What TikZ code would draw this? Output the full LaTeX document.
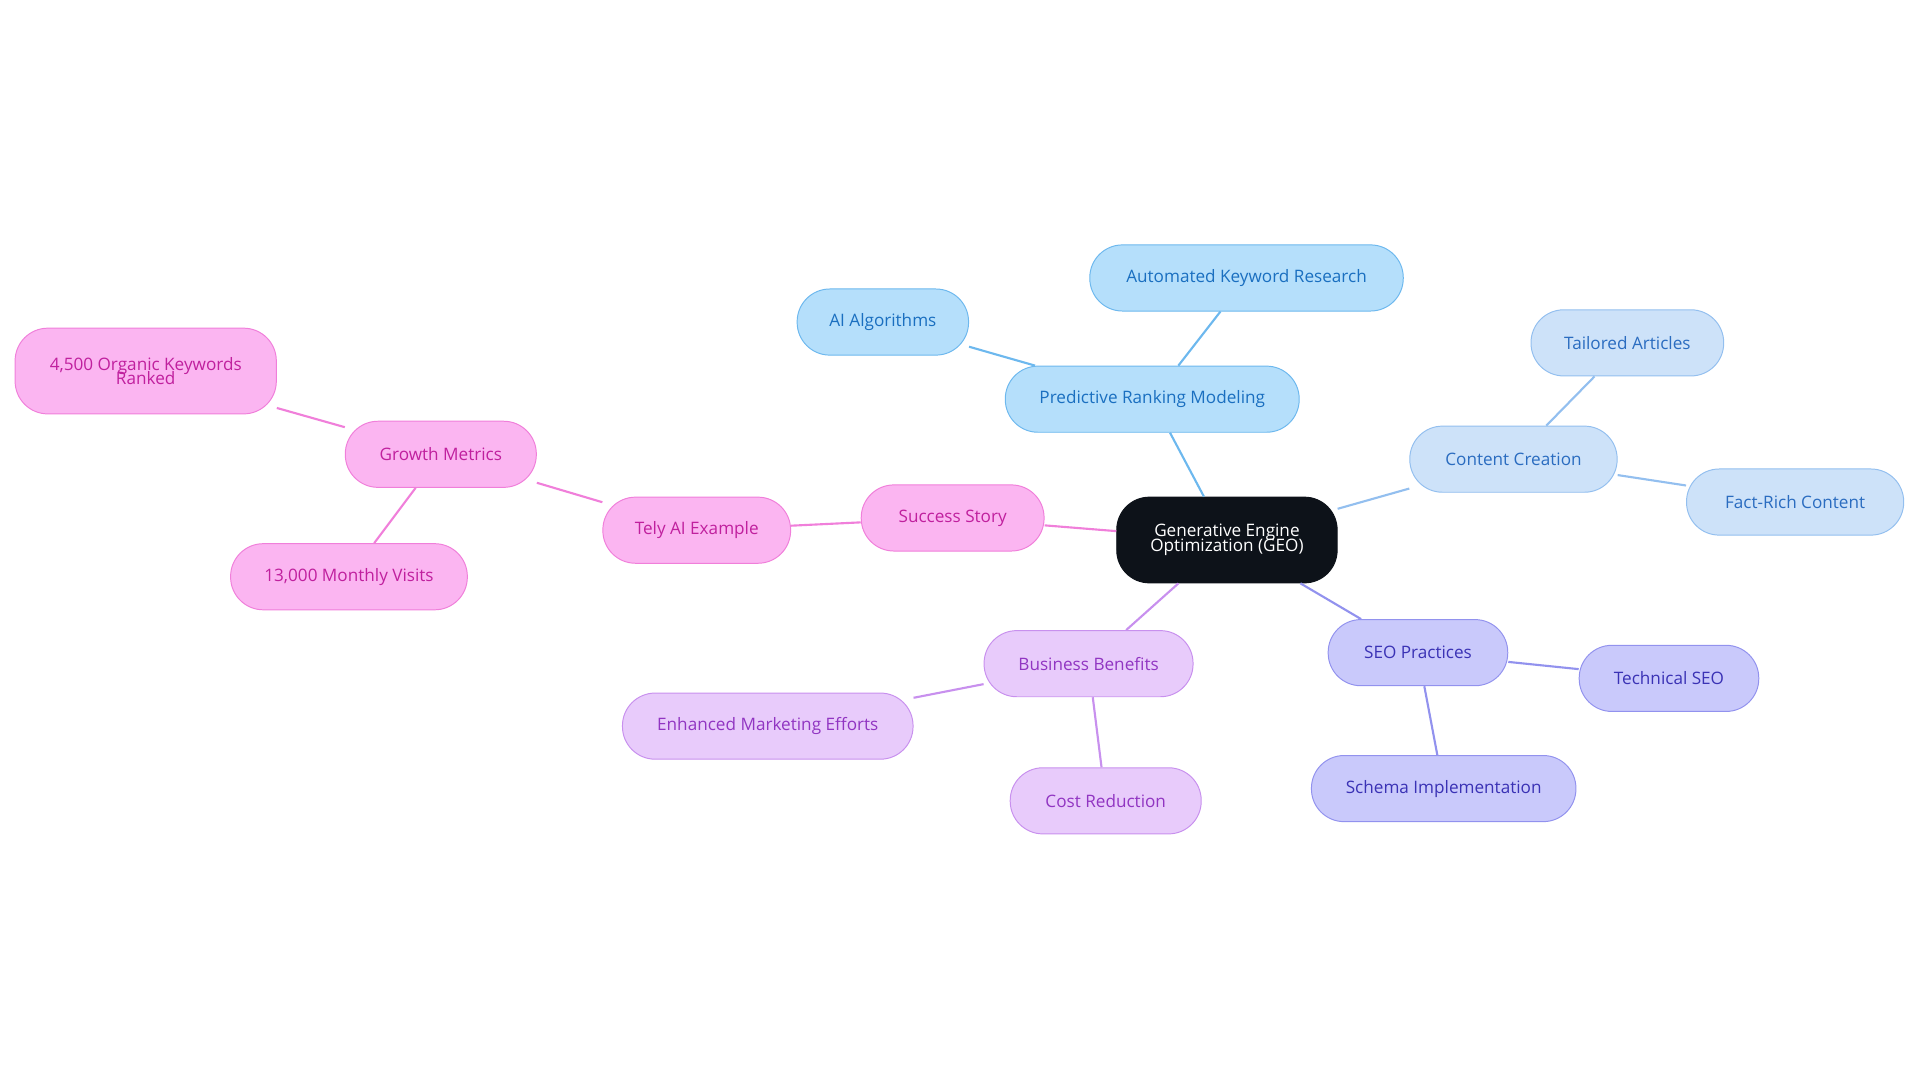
\documentclass[tikz,border=0pt]{standalone}
\usepackage{fontspec}
\setmainfont{Open Sans}
\definecolor{bF}{HTML}{B5DFFB}\definecolor{bD}{HTML}{6DB8EE}\definecolor{bT}{HTML}{1A6FC0}
\definecolor{lF}{HTML}{CDE2F9}\definecolor{lD}{HTML}{93BFEF}\definecolor{lT}{HTML}{2A6CC0}
\definecolor{iF}{HTML}{C9C9FB}\definecolor{iD}{HTML}{9292EE}\definecolor{iT}{HTML}{3A32B5}
\definecolor{pF}{HTML}{E8CBFB}\definecolor{pD}{HTML}{C890EE}\definecolor{pT}{HTML}{9135C2}
\definecolor{kF}{HTML}{FBB5F1}\definecolor{kD}{HTML}{F07FDA}\definecolor{kT}{HTML}{C0209E}
\definecolor{dark}{HTML}{0D1219}
\tikzset{
 nd/.style={rounded corners=20pt,minimum height=40.5pt,font=\fontsize{10.5}{11}\selectfont,align=center,inner sep=2pt,line width=0.6pt},
 bb/.style={nd,fill=bF,draw=bD,text=bT}, lb/.style={nd,fill=lF,draw=lD,text=lT},
 ib/.style={nd,fill=iF,draw=iD,text=iT}, pb/.style={nd,fill=pF,draw=pD,text=pT},
 kb/.style={nd,fill=kF,draw=kD,text=kT},
 ed/.style={line width=1.3pt}
}
\begin{document}
\begin{tikzpicture}[x=0.75pt,y=-0.75pt]
\useasboundingbox (0,0) rectangle (1568,884.5);
\node[nd,fill=dark,text=white,draw=dark,minimum width=135pt,minimum height=52.5pt] (g) at (1002,441) {Generative Engine\\[-2pt]Optimization (GEO)};
\node[bb,minimum width=180pt] (prm) at (941,326) {Predictive Ranking Modeling};
\node[bb,minimum width=192pt] (akr) at (1018,227) {Automated Keyword Research};
\node[bb,minimum width=105pt] (ai) at (721,263) {AI Algorithms};
\node[lb,minimum width=127pt] (cc) at (1236,375) {Content Creation};
\node[lb,minimum width=118pt] (ta) at (1329,280) {Tailored Articles};
\node[lb,minimum width=133pt] (fr) at (1466,410) {Fact-Rich Content};
\node[ib,minimum width=110pt] (seo) at (1158,533) {SEO Practices};
\node[ib,minimum width=110pt] (ts) at (1363,554) {Technical SEO};
\node[ib,minimum width=162pt] (si) at (1179,644) {Schema Implementation};
\node[pb,minimum width=128pt] (bben) at (889,542) {Business Benefits};
\node[pb,minimum width=178pt] (em) at (627,593) {Enhanced Marketing Efforts};
\node[pb,minimum width=117pt] (cr) at (903,654) {Cost Reduction};
\node[kb,minimum width=112pt] (ss) at (778,423) {Success Story};
\node[kb,minimum width=115pt] (tely) at (569,433) {Tely AI Example};
\node[kb,minimum width=117pt] (gm) at (360,371) {Growth Metrics};
\node[kb,minimum width=160pt,minimum height=52.5pt] (k45) at (119,303) {4,500 Organic Keywords\\[-2pt]Ranked};
\node[kb,minimum width=145pt] (mv) at (285,471) {13,000 Monthly Visits};
\begin{scope}[on background layer/.try]
\end{scope}
\begin{pgfonlayer}{main}\end{pgfonlayer}
\draw[ed,bD] (g) -- (prm); \draw[ed,bD] (prm) -- (akr); \draw[ed,bD] (prm) -- (ai);
\draw[ed,lD] (g) -- (cc); \draw[ed,lD] (cc) -- (ta); \draw[ed,lD] (cc) -- (fr);
\draw[ed,iD] (g) -- (seo); \draw[ed,iD] (seo) -- (ts); \draw[ed,iD] (seo) -- (si);
\draw[ed,pD] (g) -- (bben); \draw[ed,pD] (bben) -- (em); \draw[ed,pD] (bben) -- (cr);
\draw[ed,kD] (g) -- (ss); \draw[ed,kD] (ss) -- (tely); \draw[ed,kD] (tely) -- (gm);
\draw[ed,kD] (gm) -- (k45); \draw[ed,kD] (gm) -- (mv);
\end{tikzpicture}
\end{document}
